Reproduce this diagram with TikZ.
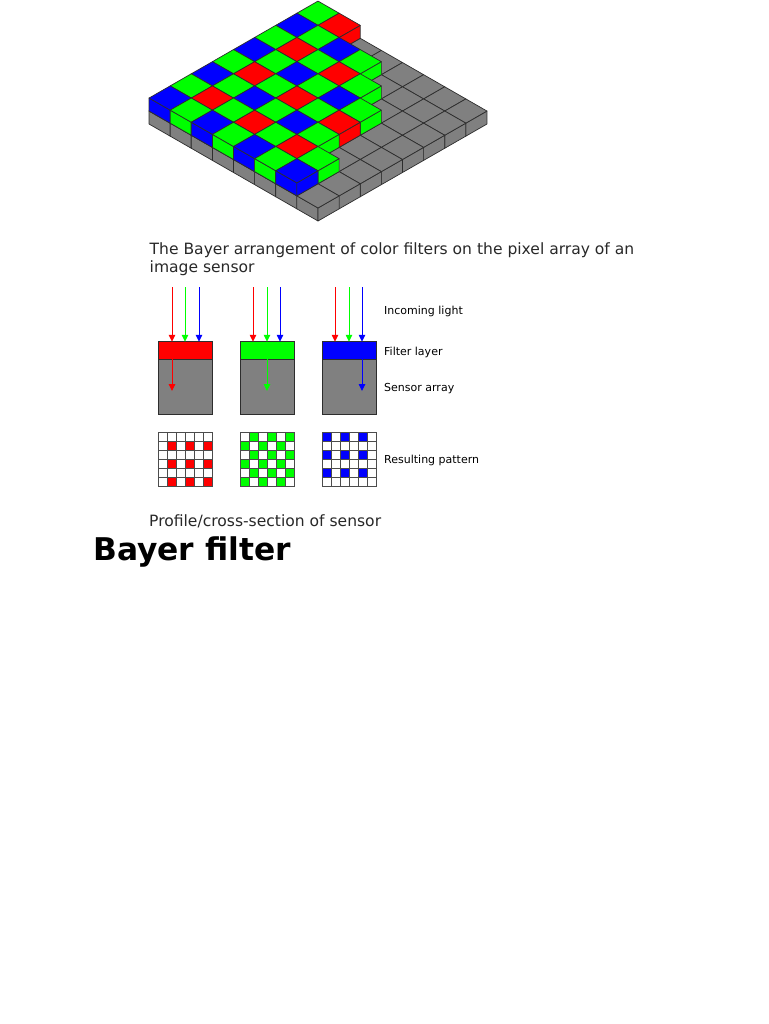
\documentclass[tikz,border=0pt]{standalone}
\usepackage{fontspec}
\setmainfont{DejaVu Sans}
\usetikzlibrary{arrows.meta}
\definecolor{fr}{RGB}{255,0,0}
\definecolor{fg}{RGB}{0,255,0}
\definecolor{fb}{RGB}{0,0,255}
\definecolor{sg}{RGB}{128,128,128}
\definecolor{ln}{RGB}{45,45,45}
\definecolor{tx}{RGB}{40,40,40}
\tikzset{
  x=1pt,y=-1pt,
  face/.style={draw=ln,line width=0.7pt,line join=round},
  ray/.style={line width=0.9pt,-{Triangle[length=7pt,width=6.5pt]}},
  boxa/.style={draw=ln,line width=1pt,minimum width=54.5pt,inner sep=0pt,outer sep=0pt},
  cellbox/.style={draw=ln!85!white,line width=1pt},
  captxt/.style={anchor=base west,inner sep=0pt,font=\fontsize{15.55pt}{18pt}\selectfont,text=tx},
  lab/.style={anchor=base west,inner sep=0pt,font=\fontsize{11pt}{13pt}\selectfont,text=black},
  ttl/.style={anchor=base west,inner sep=0pt,font=\fontsize{31.3pt}{36pt}\selectfont\bfseries,text=black}
}
% base corner of the lattice
\newcommand{\px}[2]{318+21.12*(#1)-21.12*(#2)}
\newcommand{\py}[3]{208-12.12*(#1)-12.12*(#2)-#3}
% block: i, j, colour, z bottom, z top
\newcommand{\tileblock}[5]{%
  \pgfmathsetmacro{\ia}{#1+1}\pgfmathsetmacro{\ja}{#2+1}%
  \filldraw[face,fill=#3] ({\px{#1}{\ja}},{\py{#1}{\ja}{#5}}) -- ({\px{#1}{#2}},{\py{#1}{#2}{#5}}) -- ({\px{#1}{#2}},{\py{#1}{#2}{(#4)}}) -- ({\px{#1}{\ja}},{\py{#1}{\ja}{(#4)}}) -- cycle;
  \filldraw[face,fill=#3] ({\px{\ia}{#2}},{\py{\ia}{#2}{#5}}) -- ({\px{#1}{#2}},{\py{#1}{#2}{#5}}) -- ({\px{#1}{#2}},{\py{#1}{#2}{(#4)}}) -- ({\px{\ia}{#2}},{\py{\ia}{#2}{(#4)}}) -- cycle;
  \filldraw[face,fill=#3] ({\px{#1}{#2}},{\py{#1}{#2}{#5}}) -- ({\px{\ia}{#2}},{\py{\ia}{#2}{#5}}) -- ({\px{\ia}{\ja}},{\py{\ia}{\ja}{#5}}) -- ({\px{#1}{\ja}},{\py{#1}{\ja}{#5}}) -- cycle;
}
\begin{document}
\begin{tikzpicture}
\useasboundingbox (0,0) rectangle (768,1024);
% grey sensor base
\foreach \s in {14,13,...,0}{
  \foreach \ii in {0,...,7}{
    \pgfmathtruncatemacro{\jj}{\s-\ii}
    \ifnum\jj>-1 \ifnum\jj<8
      \tileblock{\ii}{\jj}{sg}{-13}{0}
    \fi\fi
  }
}
% colour filter blocks, back to front
\foreach \s in {14,13,...,1}{
  \foreach \ii in {0,...,7}{
    \pgfmathtruncatemacro{\jj}{\s-\ii}
    \pgfmathtruncatemacro{\jmin}{\ii<2 ? 1 : (\ii<5 ? 2 : (\ii==5 ? 3 : (\ii==6 ? 4 : 6)))}
    \ifnum\jj<8 \ifnum\jj<\jmin\else
      \pgfmathtruncatemacro{\ci}{mod(\ii,2)}
      \pgfmathtruncatemacro{\cj}{mod(\jj,2)}
      \ifnum\ci=0
        \ifnum\cj=0 \def\cc{fg}\else\def\cc{fb}\fi
      \else
        \ifnum\cj=0 \def\cc{fr}\else\def\cc{fg}\fi
      \fi
      \tileblock{\ii}{\jj}{\cc}{0}{13}
    \fi\fi
  }
}
% captions
\node[captxt] (capa) at (149.5,254) {The Bayer arrangement of color filters on the pixel array of an};
\node[captxt] (capb) at (149.5,272) {image sensor};
\node[captxt] (capc) at (149,526) {Profile/cross-section of sensor};
\node[ttl] (title) at (93,560) {Bayer filter};
% cross-section boxes
\foreach \nm/\xc/\col in {a/185.5/fr,b/267.5/fg,c/349.3/fb}{
  \node[boxa,fill=sg,minimum height=55pt] (sens\nm) at (\xc,387) {};
  \node[boxa,fill=\col,minimum height=17.5pt] (filt\nm) at (\xc,350.5) {};
}
% rays
\foreach \nm/\xa/\xb/\xd/\xi/\col in {a/172/185/199/172/fr,b/253/267/280/267/fg,c/335/349/362/362/fb}{
  \coordinate (ra\nm) at (\xa,287);
  \coordinate (rb\nm) at (\xb,287);
  \coordinate (rc\nm) at (\xd,287);
  \coordinate (in\nm) at (\xi,391);
  \draw[ray,fr] (ra\nm) -- (ra\nm |- filt\nm.north);
  \draw[ray,fg] (rb\nm) -- (rb\nm |- filt\nm.north);
  \draw[ray,fb] (rc\nm) -- (rc\nm |- filt\nm.north);
  \draw[ray,\col] (in\nm |- filt\nm.south) -- (in\nm);
}
% labels
\node[lab] (l1) at (384,314) {Incoming light};
\node[lab] (l2) at (384,355) {Filter layer};
\node[lab] (l3) at (384,391) {Sensor array};
\node[lab] (l4) at (384,463) {Resulting pattern};
% patterns
\foreach \rw in {0,...,5}{
  \foreach \cl in {0,...,5}{
    \pgfmathsetmacro{\yy}{432+\rw*9.13}
    \pgfmathsetmacro{\yz}{\yy+9.13}
    % red
    \pgfmathtruncatemacro{\ta}{(mod(\rw,2)==1 && mod(\cl,2)==1) ? 1 : 0}
    \ifnum\ta=1 \def\fa{fr}\else\def\fa{white}\fi
    \filldraw[cellbox,fill=\fa] ({158+\cl*9.13},\yy) rectangle ({158+(\cl+1)*9.13},\yz);
    % green
    \pgfmathtruncatemacro{\tb}{mod(\rw+\cl,2)}
    \ifnum\tb=1 \def\fa{fg}\else\def\fa{white}\fi
    \filldraw[cellbox,fill=\fa] ({240+\cl*9.13},\yy) rectangle ({240+(\cl+1)*9.13},\yz);
    % blue
    \pgfmathtruncatemacro{\tc}{(mod(\rw,2)==0 && mod(\cl,2)==0) ? 1 : 0}
    \ifnum\tc=1 \def\fa{fb}\else\def\fa{white}\fi
    \filldraw[cellbox,fill=\fa] ({322+\cl*9.13},\yy) rectangle ({322+(\cl+1)*9.13},\yz);
  }
}
\end{tikzpicture}
\end{document}
